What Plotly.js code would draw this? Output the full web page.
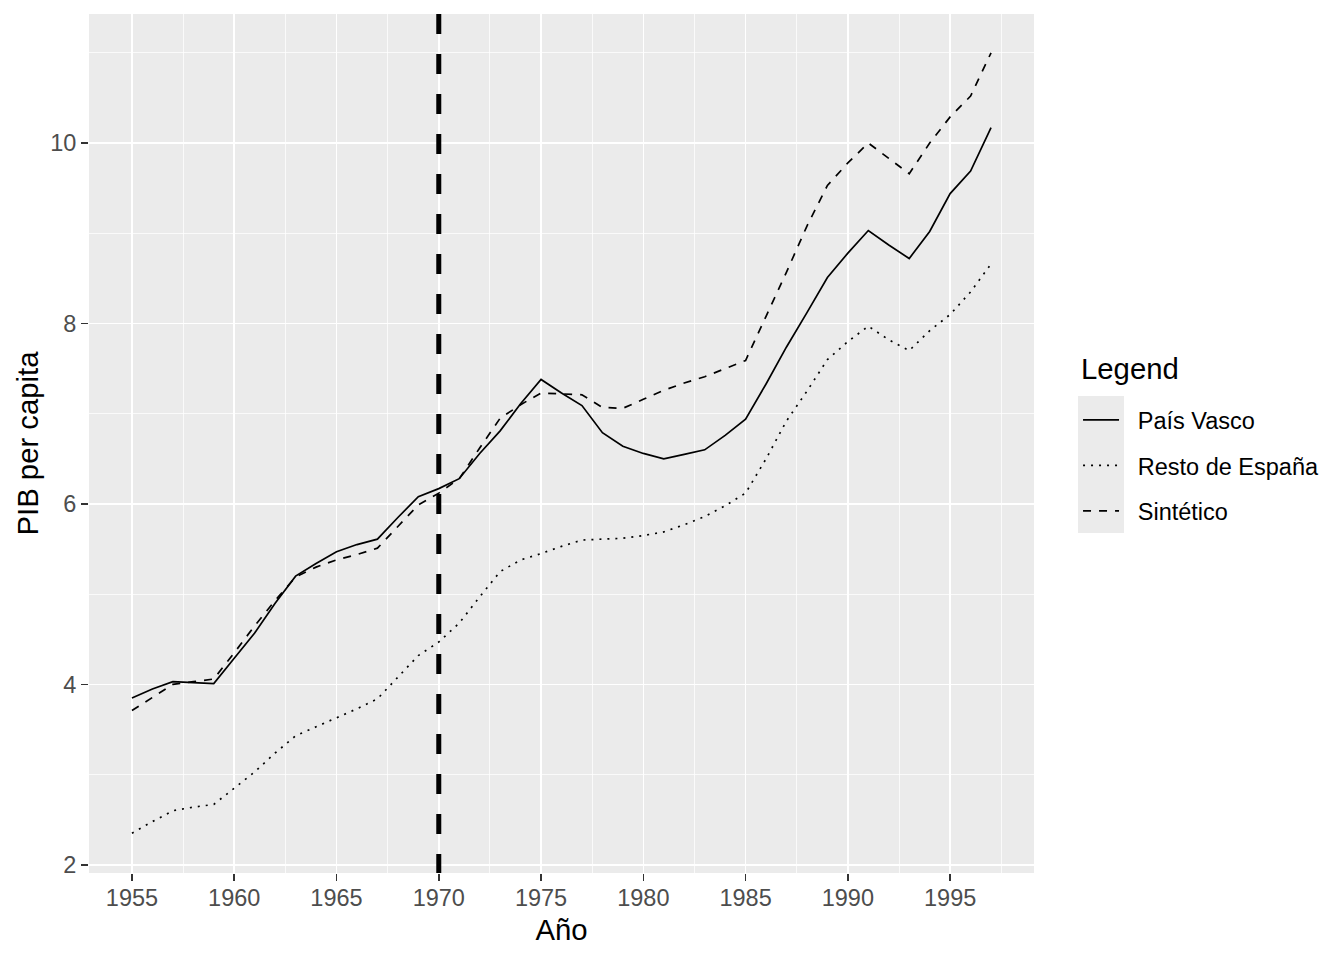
<!DOCTYPE html>
<html>
<head>
<meta charset="utf-8">
<script src="https://cdn.plot.ly/plotly-3.0.1.min.js"></script>
<style>
  html, body { margin: 0; padding: 0; background: #fff; }
  #plotlyDiv { width: 1344px; height: 960px; }
</style>
</head>
<body>
<div id="plotlyDiv"></div>
<script>
// years and PIB per capita
const years = [1955, 1956, 1957, 1958, 1959, 1960, 1961, 1962, 1963, 1964,
  1965, 1966, 1967, 1968, 1969, 1970, 1971, 1972, 1973, 1974,
  1975, 1976, 1977, 1978, 1979, 1980, 1981, 1982, 1983, 1984,
  1985, 1986, 1987, 1988, 1989, 1990, 1991, 1992, 1993, 1994,
  1995, 1996, 1997]

const paisVasco = [3.85, 3.95, 4.03, 4.02, 4.01, 4.29, 4.57, 4.90, 5.20, 5.34,
  5.47, 5.55, 5.61, 5.85, 6.08, 6.17, 6.28, 6.56, 6.81, 7.11,
  7.38, 7.23, 7.09, 6.79, 6.64, 6.56, 6.50, 6.55, 6.60, 6.76,
  6.94, 7.33, 7.74, 8.12, 8.51, 8.78, 9.03, 8.87, 8.72, 9.02,
  9.44, 9.69, 10.17]

const restoEspana = [2.35, 2.48, 2.60, 2.64, 2.67, 2.85, 3.03, 3.24, 3.43, 3.53,
  3.63, 3.73, 3.84, 4.08, 4.32, 4.47, 4.68, 4.97, 5.25, 5.38,
  5.45, 5.53, 5.60, 5.61, 5.62, 5.65, 5.69, 5.77, 5.86, 5.98,
  6.12, 6.50, 6.92, 7.25, 7.60, 7.80, 7.97, 7.82, 7.70, 7.92,
  8.10, 8.35, 8.66]

const sintetico = [3.71, 3.86, 4.00, 4.03, 4.06, 4.35, 4.65, 4.93, 5.19, 5.30,
  5.38, 5.44, 5.51, 5.75, 5.99, 6.12, 6.28, 6.62, 6.95, 7.10,
  7.23, 7.22, 7.21, 7.07, 7.06, 7.16, 7.26, 7.34, 7.41, 7.50,
  7.59, 8.08, 8.57, 9.08, 9.53, 9.78, 10.00, 9.83, 9.66, 10.00,
  10.29, 10.52, 11.00]

const seriesNames = ['País Vasco', 'Resto de España', 'Sintético']
const treatmentYear = 1970

const font = 'Liberation Sans, Arial, sans-serif'

function line(name, ys, dash) {
  return {
    // en space + hair space push the legend label away from its key, like ggplot
    x: years, y: ys, name: '\u2002\u200A' + name, mode: 'lines', legendgroup: name,
    line: { color: 'black', width: 1.7, dash: dash }
  }
}

let data = [
  line(seriesNames[0], paisVasco, 'solid'),
  line(seriesNames[1], restoEspana, '2px,6px'),
  line(seriesNames[2], sintetico, '8px,8px')
]

let axisCommon = {
  showgrid: true, gridcolor: '#FFFFFF', gridwidth: 1.5,
  zeroline: false, showline: false,
  ticks: 'outside', ticklen: 7, tickwidth: 1.5, tickcolor: '#333333',
  tickfont: { family: font, size: 23.5, color: '#4D4D4D' }
}

let layout = {
  width: 1344, height: 960,
  margin: { l: 89, r: 310, t: 14, b: 87 },
  paper_bgcolor: '#FFFFFF',
  plot_bgcolor: '#EBEBEB',
  font: { family: font, color: 'black' },
  xaxis: Object.assign({}, axisCommon, {
    range: [1952.9, 1999.1], tick0: 1955, dtick: 5,
    ticklabelstandoff: -3,
    minor: { dtick: 2.5, showgrid: true, gridcolor: '#FFFFFF', gridwidth: 0.75, ticks: '' },
    title: { text: 'Año', font: { family: font, size: 29.3, color: 'black' }, standoff: 9 }
  }),
  yaxis: Object.assign({}, axisCommon, {
    range: [1.91, 11.43], tick0: 0, dtick: 2,
    minor: { dtick: 1, showgrid: true, gridcolor: '#FFFFFF', gridwidth: 0.75, ticks: '' },
    title: { text: 'PIB per capita', font: { family: font, size: 29.3, color: 'black' }, standoff: 2 }
  }),
  showlegend: true,
  legend: {
    x: 1.0466, xanchor: 'left', y: 0.5529, yanchor: 'top',
    bgcolor: 'rgba(0,0,0,0)', borderwidth: 0,
    tracegroupgap: 12, itemwidth: 36,
    font: { family: font, size: 23.5, color: 'black' }
  },
  annotations: [
    { text: 'Legend', xref: 'paper', yref: 'paper', x: 1.0476, y: 0.5873,
      xanchor: 'left', yanchor: 'middle', showarrow: false,
      font: { family: font, size: 29.3, color: 'black' } }
  ],
  shapes: [
    // vertical marker at the treatment year
    { type: 'line', xref: 'x', yref: 'paper', x0: treatmentYear, x1: treatmentYear, y0: 1, y1: 0,
      line: { color: 'black', width: 5, dash: '20px,20px' } },
    // grey key background of the legend
    { type: 'rect', xref: 'paper', yref: 'paper', x0: 1.0466, x1: 1.0952, y0: 0.3958, y1: 0.5553,
      fillcolor: '#EBEBEB', line: { width: 0 }, layer: 'below' }
  ]
}

Plotly.newPlot('plotlyDiv', data, layout, { displayModeBar: false, staticPlot: true })
</script>
</body>
</html>
